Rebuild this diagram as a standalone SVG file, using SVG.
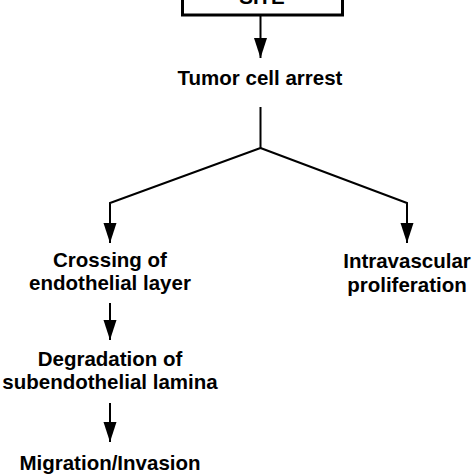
<svg xmlns="http://www.w3.org/2000/svg" width="474" height="474" viewBox="0 0 474 474">
<defs>
<style>
.t{font-family:"Liberation Sans",Arial,sans-serif;font-weight:bold;font-size:20.5px;fill:#000;text-anchor:middle}
.c{fill:none;stroke:#000;stroke-width:2}
</style>
<marker id="a" markerUnits="userSpaceOnUse" markerWidth="22" markerHeight="16" viewBox="0 0 22 16" refX="20" refY="8" orient="auto">
<polygon points="0,1.5 20,8 0,14.5" fill="#000"/>
</marker>
</defs>
<rect width="474" height="474" fill="#fff"/>
<g id="site">
<rect x="182.5" y="-40" width="160" height="55" fill="none" stroke="#000" stroke-width="3"/>
<text class="t" x="262" y="4">SITE</text>
</g>
<g id="arrest"><text class="t" x="260" y="85">Tumor cell arrest</text></g>
<g id="crossing"><text class="t" x="110" y="267">Crossing of</text><text class="t" x="110" y="290">endothelial layer</text></g>
<g id="intravascular"><text class="t" x="407" y="268">Intravascular</text><text class="t" x="407" y="292">proliferation</text></g>
<g id="degradation"><text class="t" x="110" y="366">Degradation of</text><text class="t" x="110" y="389">subendothelial lamina</text></g>
<g id="migration"><text class="t" x="110" y="470">Migration/Invasion</text></g>
<g id="connectors">
<line class="c" x1="260.5" y1="16" x2="260.5" y2="58" marker-end="url(#a)"/>
<polyline class="c" points="260.5,107 260.5,148 110,203 110,243" marker-end="url(#a)"/>
<polyline class="c" points="260.5,148 407,203 407,243" marker-end="url(#a)"/>
<line class="c" x1="110" y1="303" x2="110" y2="340" marker-end="url(#a)"/>
<line class="c" x1="110" y1="403" x2="110" y2="442" marker-end="url(#a)"/>
</g>
</svg>
